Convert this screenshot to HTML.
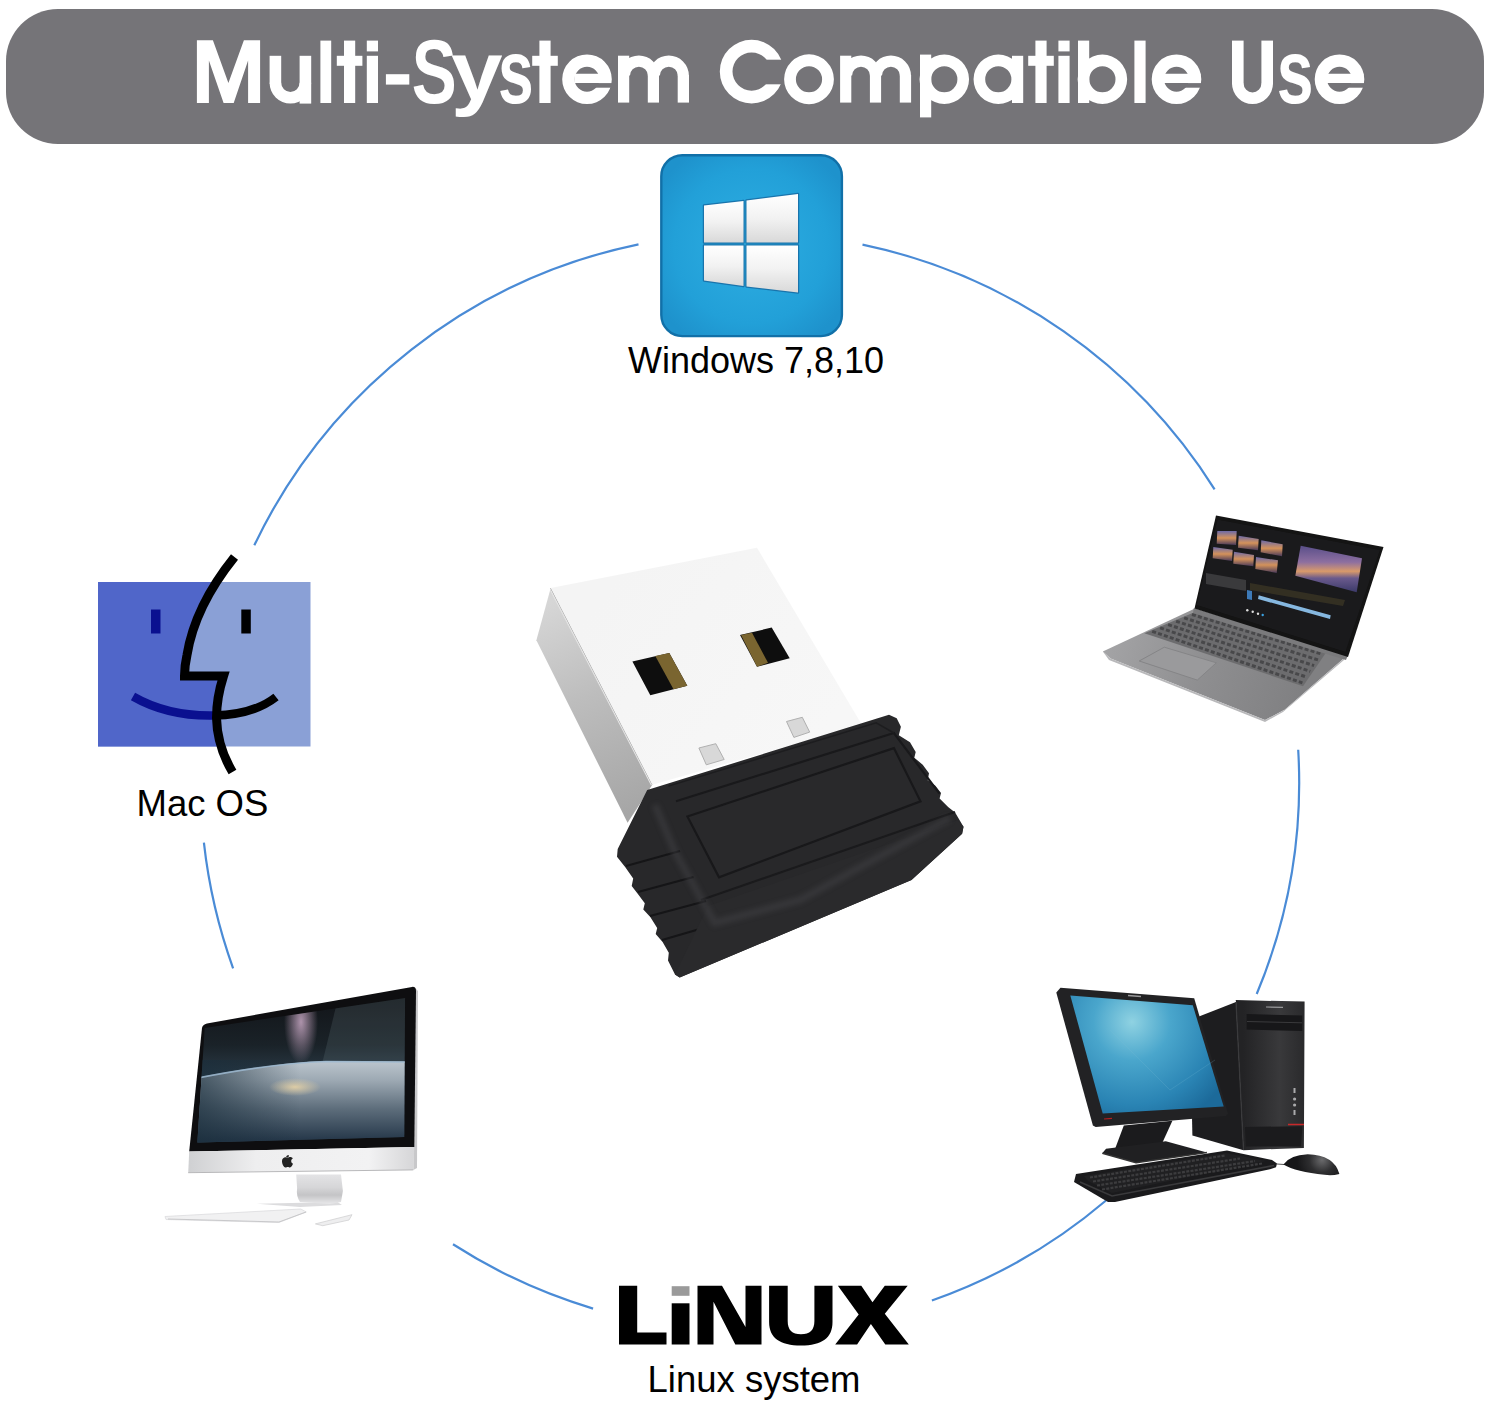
<!DOCTYPE html>
<html><head><meta charset="utf-8">
<style>
html,body{margin:0;padding:0;background:#fff;}
body{width:1500px;height:1421px;position:relative;overflow:hidden;font-family:"Liberation Sans",sans-serif;}
.abs{position:absolute;}
#hdr{left:6px;top:9px;width:1478px;height:135px;border-radius:52px;background:#757478;}
.gl{position:absolute;left:0;top:0;color:#fff;font-weight:bold;font-size:91px;line-height:1;white-space:pre;transform-origin:0 0;}
.lbl{position:absolute;white-space:nowrap;color:#000;font-size:36px;line-height:1;}
svg{position:absolute;left:0;top:0;}
</style></head><body>
<div id="hdr" class="abs"></div>
<div id="title"><span class="gl" style="transform:matrix(0.7407,0,0,1.0078,411.78,25.39)">S</span><span class="gl" style="transform:matrix(1.0204,0,0,0.9194,450.98,29.14)">y</span><span class="gl" style="transform:matrix(0.7045,0,0,0.9900,497.89,26.78)">s</span><span class="gl" style="transform:matrix(0.7273,0,0,0.9900,1276.82,26.78)">s</span></div>
<svg id="tsvg" width="1500" height="160" viewBox="0 0 1500 160" style="position:absolute;left:0;top:0"><path fill="#fff" fill-rule="evenodd" d="M719.80 71.55a31.8 31.8 0 1 0 63.6 0a31.8 31.8 0 1 0 -63.6 0ZM732.50 71.55a19.1 19.1 0 1 0 38.2 0a19.1 19.1 0 1 0 -38.2 0Z"/><rect fill="#757478" x="763" y="59.7" width="21" height="24.6"/><g fill="#fff"><path d="M840.10 55.70H851.30V102.60H840.10Z"/><path d="M840.90 75.60A20.1 20.1 0 0 1 881.10 75.60H869.90A8.9 8.9 0 0 0 852.10 75.60Z"/><path d="M869.90 75.00H881.10V102.60H869.90Z"/><path d="M870.80 75.60A20.1 20.1 0 0 1 911.00 75.60H899.80A8.9 8.9 0 0 0 882.00 75.60Z"/><path d="M899.80 75.00H911.10V102.60H899.80Z"/><path d="M618.00 55.70H629.20V102.60H618.00Z"/><path d="M618.80 75.60A20.1 20.1 0 0 1 659.00 75.60H647.80A8.9 8.9 0 0 0 630.00 75.60Z"/><path d="M647.80 75.00H659.00V102.60H647.80Z"/><path d="M648.70 75.60A20.1 20.1 0 0 1 688.90 75.60H677.70A8.9 8.9 0 0 0 659.90 75.60Z"/><path d="M677.70 75.00H689.00V102.60H677.70Z"/><path d="M196.9 103V40.3H212.9L228.4 83L243.9 40.3H260.1V103H248.1V60.6L233.7 103H223.6L208.9 60.6V103Z"/><path d="M269.6 55.8H281.2V83.6H269.6Z"/><path d="M299.6 55.8H311.2V103.6H299.6Z"/><path d="M269.6 82.8A20.8 20.8 0 0 0 311.2 82.8H299.6A9.2 9.2 0 0 1 281.2 82.8Z"/><path d="M320.4 40.6H331.2V103H320.4Z"/><path d="M1134.4 40.6H1145.6V103H1134.4Z"/><path d="M344.0 40.6H355.2V103H344.0Z"/><path d="M336.8 55.8H362.4V65.8H336.8Z"/><path d="M539.4 40.6H550.6V103H539.4Z"/><path d="M532.2 55.8H557.8V65.8H532.2Z"/><path d="M1035.4 40.6H1046.6V103H1035.4Z"/><path d="M1028.2 55.8H1053.8V65.8H1028.2Z"/><path d="M366.8 40.6H378.0V51.4H366.8Z"/><path d="M366.8 55.8H378.0V103H366.8Z"/><path d="M1058.4 40.6H1069.6V51.4H1058.4Z"/><path d="M1058.4 55.8H1069.6V103H1058.4Z"/><path d="M385.9 74.2H409.3V84.6H385.9Z"/><path d="M1232 40.6H1243.6V84.3H1232Z"/><path d="M1261.4 40.6H1273V84.3H1261.4Z"/><path d="M1232 83.5A20.5 20.5 0 0 0 1273 83.5H1261.4A8.9 8.9 0 0 1 1243.6 83.5Z"/><path fill-rule="evenodd" d="M784.10 79.25a24.9 24.9 0 1 0 49.8 0a24.9 24.9 0 1 0 -49.8 0ZM795.90 79.25a13.1 13.1 0 1 0 26.2 0a13.1 13.1 0 1 0 -26.2 0Z"/><path fill-rule="evenodd" d="M919.55 79.25a24.75 24.75 0 1 0 49.5 0a24.75 24.75 0 1 0 -49.5 0ZM931.20 79.25a13.1 13.1 0 1 0 26.2 0a13.1 13.1 0 1 0 -26.2 0Z"/><path fill-rule="evenodd" d="M973.55 79.25a24.75 24.75 0 1 0 49.5 0a24.75 24.75 0 1 0 -49.5 0ZM985.20 79.25a13.1 13.1 0 1 0 26.2 0a13.1 13.1 0 1 0 -26.2 0Z"/><path fill-rule="evenodd" d="M1077.65 79.25a24.75 24.75 0 1 0 49.5 0a24.75 24.75 0 1 0 -49.5 0ZM1089.30 79.25a13.1 13.1 0 1 0 26.2 0a13.1 13.1 0 1 0 -26.2 0Z"/><path fill-rule="evenodd" d="M562.20 79.25a24.8 24.8 0 1 0 49.6 0a24.8 24.8 0 1 0 -49.6 0ZM574.60 79.25a12.4 12.4 0 1 0 24.8 0a12.4 12.4 0 1 0 -24.8 0Z"/><path fill-rule="evenodd" d="M1151.70 79.25a24.8 24.8 0 1 0 49.6 0a24.8 24.8 0 1 0 -49.6 0ZM1164.10 79.25a12.4 12.4 0 1 0 24.8 0a12.4 12.4 0 1 0 -24.8 0Z"/><path fill-rule="evenodd" d="M1314.70 79.25a24.8 24.8 0 1 0 49.6 0a24.8 24.8 0 1 0 -49.6 0ZM1327.10 79.25a12.4 12.4 0 1 0 24.8 0a12.4 12.4 0 1 0 -24.8 0Z"/><path d="M920 54.6H931.2V117.4H920Z"/><path d="M1012 55.8H1023.2V103H1012Z"/><path d="M1078 40.6H1089.2V103H1078Z"/><path d="M574.40 73.8H611.00V83.1H574.40Z"/><path d="M1163.90 73.8H1200.50V83.1H1163.90Z"/><path d="M1326.90 73.8H1363.50V83.1H1326.90Z"/></g><g fill="#757478"><rect x="589.00" y="83.1" width="24" height="4.6"/><rect x="1178.50" y="83.1" width="24" height="4.6"/><rect x="1341.50" y="83.1" width="24" height="4.6"/></g></svg>

<svg id="arcs" width="1500" height="1421" viewBox="0 0 1500 1421">
<g fill="none" stroke="#4a8bd6" stroke-width="2.2">
<path d="M254.3 545.3A549.3 549.3 0 0 1 638.5 244.3"/>
<path d="M862.5 244.6A549.3 549.3 0 0 1 1214.6 489.3"/>
<path d="M1298.2 749.7A549.3 549.3 0 0 1 1256.7 994.0"/>
<path d="M1106.0 1200.5A549.3 549.3 0 0 1 931.9 1300.5"/>
<path d="M593.1 1308.6A549.3 549.3 0 0 1 453.0 1244.3"/>
<path d="M233.1 968.3A549.3 549.3 0 0 1 203.9 842.7"/>
</g>
</svg>

<!-- Windows icon -->
<svg id="win" width="1500" height="1421" viewBox="0 0 1500 1421">
<defs>
<radialGradient id="wbg" cx="751" cy="246" r="110" gradientUnits="userSpaceOnUse">
<stop offset="0" stop-color="#2eaee2"/><stop offset="0.7" stop-color="#22a0d8"/><stop offset="1" stop-color="#1e92cc"/>
</radialGradient>
<linearGradient id="wpane" x1="0" y1="0" x2="0" y2="1">
<stop offset="0" stop-color="#ffffff"/><stop offset="0.5" stop-color="#f2f2f2"/><stop offset="1" stop-color="#d9d9d9"/>
</linearGradient>
</defs>
<rect x="661.3" y="155.3" width="180.6" height="180.8" rx="21" fill="url(#wbg)" stroke="#1170a8" stroke-width="2.4"/>

<g fill="url(#wpane)" stroke="#1668a0" stroke-width="2.4" stroke-opacity="0.8" paint-order="stroke" stroke-linejoin="round">
<path d="M704 205.5L743.5 201V242.5H704Z"/><path d="M746.5 200.5L798 194V242.5H746.5Z"/>
<path d="M704 245.5H743.5V286L704 280.5Z"/><path d="M746.5 245.5H798V292.5L746.5 286.5Z"/>
</g>
</svg>

<!-- Mac Finder icon -->
<svg id="mac" width="1500" height="1421" viewBox="0 0 1500 1421">
<rect x="98" y="582" width="212.5" height="164.5" fill="#8aa0d6"/>
<path d="M98 582H215.5C201 600 190 628 186 658C184 670 184 676 184 676H220C215 695 213 715 216 735C217 740 219 745 221 746.5H98Z" fill="#5066c9"/>
<rect x="151" y="609.5" width="9.5" height="24" fill="#0a1090"/>
<rect x="241.3" y="609.5" width="9.5" height="24" fill="#000"/>
<path d="M133 696.5C160 712 190 716 214 715.5" fill="none" stroke="#0a1090" stroke-width="8.5"/>
<path d="M214 715.5C240 715 262 708 276 697" fill="none" stroke="#000" stroke-width="8.5"/>
<path d="M234.5 557C212 585 193 618 187 655C185 664 184.5 672 184.5 676H223.5C219 690 216.5 705 216.5 718C217 738 223 756 232.5 772" fill="none" stroke="#000" stroke-width="9"/>
</svg>

<!-- LINUX logo -->
<svg id="linux" width="1500" height="1421" viewBox="0 0 1500 1421">
<g fill="#000">
<path d="M619 1285.7H637.2V1332.6H666.5V1344.5H619Z"/>
<rect x="671.7" y="1286.2" width="17.8" height="9.6" fill="#9a9a9a"/>
<rect x="671.7" y="1303.3" width="17.8" height="41.2"/>
<path d="M697.5 1285.7H722L745.5 1327V1285.7H761.5V1344.5H735.3L713.5 1301.7V1344.5H697.5Z"/>
<path d="M769.1 1285.7H787.7V1321C787.7 1330 792 1334.2 801 1334.2C810 1334.2 814.4 1330 814.4 1321V1285.7H832.5V1322C832.5 1338 822 1345.5 801 1345.5C780 1345.5 769.1 1338 769.1 1322Z"/>
<path d="M837.9 1285.7H861.3L872.5 1302.2L884.8 1285.7H907.7L884.8 1313.8L908.8 1344.5H885.3L870.9 1324L857.1 1344.5H835.2L858.7 1314.5Z"/>
</g>
</svg>

<!-- USB dongle -->
<svg id="usb" width="1500" height="1421" viewBox="0 0 1500 1421">
<defs>
<linearGradient id="uside" gradientUnits="userSpaceOnUse" x1="545" y1="605" x2="635" y2="810">
<stop offset="0" stop-color="#d6d6d6"/><stop offset="0.45" stop-color="#bdbdbd"/><stop offset="1" stop-color="#a6a6a6"/>
</linearGradient>
<linearGradient id="utop" gradientUnits="userSpaceOnUse" x1="600" y1="600" x2="800" y2="760">
<stop offset="0" stop-color="#f4f4f4"/><stop offset="1" stop-color="#f7f7f7"/>
</linearGradient>
<linearGradient id="gold" gradientUnits="userSpaceOnUse" x1="0" y1="0" x2="1" y2="0">
<stop offset="0" stop-color="#6f5a2a"/><stop offset="1" stop-color="#9a8040"/>
</linearGradient>
<linearGradient id="capend" gradientUnits="userSpaceOnUse" x1="700" y1="900" x2="740" y2="980">
<stop offset="0" stop-color="#3a3a3a"/><stop offset="0.3" stop-color="#2a2a2a"/><stop offset="1" stop-color="#232323"/>
</linearGradient>
</defs>
<!-- metal left side -->
<path d="M550.7 588L536.4 640.3L627.6 822.7L652.3 784.7Z" fill="url(#uside)"/>
<path d="M551.5 590L652.3 784.7" stroke="#e4e4e4" stroke-width="3" fill="none"/><path d="M550.7 588L652.3 784.7" stroke="#8c8c8c" stroke-width="0.8" fill="none"/>
<!-- metal top -->
<path d="M550.7 588L757 547.8L862 725L652.3 784.7Z" fill="url(#utop)"/>
<!-- holes -->
<path d="M632.4 661.4L669.3 652.9L687.3 685.7L650.3 695.2Z" fill="#0e0e0e"/>
<path d="M655.3 656L669.3 652.9L687.3 685.7L673.5 689.3Z" fill="#7a6530"/>
<path d="M740 635L771.7 627.6L789.7 658.2L757 666.7Z" fill="#0e0e0e"/>
<path d="M741 635L752 632.8L768 662.8L757 666.7Z" fill="#7a6530"/>
<!-- small squares -->
<path d="M698.9 748L715.8 743.7L724.2 759.5L706.3 764.8Z" fill="#d8d8d8" stroke="#b0b0b0" stroke-width="1"/>
<path d="M786.5 721.5L802.3 717.3L809.7 732.1L793.9 737.4Z" fill="#d8d8d8" stroke="#b0b0b0" stroke-width="1"/>
<!-- black cap -->
<filter id="blur2" x="-20%" y="-20%" width="140%" height="140%"><feGaussianBlur stdDeviation="2.5"/></filter>
<path d="M647.2 790.1L889 714.8L896.7 718.3L900.9 726.7L898.8 735.2L910 742.2L915.7 752.1L914.3 757.7L922.7 764.7L929 773.2L927.7 780.2L935.4 785.8L941 792.9L939.6 798.5L948.1 807L955.1 812.6L963.5 826.7L962.1 833.7L911.5 880L679.7 977.5L675 974.4L668 960.5L668.8 952.7L662.6 941.9L655.7 934.1L657.2 928L650.3 917.1L643.3 909.4L644.8 903.2L637.9 893.9L631.7 886.1L633.2 878.4L625.5 867.6L617 856.7L617.7 849Z" fill="#28282a"/>
<!-- left ridges grooves -->
<g stroke="#151517" stroke-width="2.2" fill="none">
<path d="M626 866L680 851"/><path d="M638 892L693.5 877"/><path d="M650 916L706 901"/><path d="M662 940L717 924"/>
</g>
<!-- top lip groove -->
<path d="M676 801.3L893.9 733L939.5 793.7" stroke="#19191b" stroke-width="2.2" fill="none"/>
<path d="M668.4 786.1L876.2 722.8L893.9 733" stroke="#1d1d1f" stroke-width="1.5" fill="none"/>
<!-- inset -->
<path d="M687.4 816.5L893.9 748.1L920.5 801.3L719 877.3Z" fill="#29292b" stroke="#18181a" stroke-width="2.2"/>
<!-- end face groove -->
<path d="M701 900L955 812" stroke="#1a1a1c" stroke-width="2.2" fill="none"/>
<path d="M708 906L958 820L963.5 826.7L962.1 833.7L911.5 880L679.7 977.5L675 974.4Z" fill="#2a2a2c"/>
<!-- highlights -->
<g filter="url(#blur2)" fill="none" stroke="#4a4a4e" stroke-width="7" opacity="0.4">
<path d="M655 805L675 852L714.7 923L800 900L950 818"/>
</g>
</svg>

<!-- Laptop -->
<svg id="laptop" width="1500" height="1421" viewBox="0 0 1500 1421">
<defs>
<linearGradient id="lbase" gradientUnits="userSpaceOnUse" x1="1110" y1="640" x2="1300" y2="700">
<stop offset="0" stop-color="#a3a3a5"/><stop offset="0.5" stop-color="#8e8e90"/><stop offset="1" stop-color="#808082"/>
</linearGradient>
<linearGradient id="lsky" gradientUnits="userSpaceOnUse" x1="0" y1="546" x2="0" y2="592">
<stop offset="0" stop-color="#5a4f8a"/><stop offset="0.35" stop-color="#8d6fa0"/><stop offset="0.55" stop-color="#d99a6a"/><stop offset="0.7" stop-color="#6a5a8c"/><stop offset="1" stop-color="#3c3a6a"/>
</linearGradient>
<linearGradient id="lthumb" x1="0" y1="0" x2="0" y2="1">
<stop offset="0" stop-color="#6c6aa8"/><stop offset="0.5" stop-color="#d4925a"/><stop offset="1" stop-color="#4a3a5a"/>
</linearGradient>
<clipPath id="lscr"><path d="M1217.5 519.5L1380 550L1345.5 652L1196.5 605Z"/></clipPath>
</defs>
<!-- base -->
<path d="M1102.8 651.5L1193.8 609.1L1346 656.5L1285 709.6L1265 720L1110.6 658.5Z" fill="url(#lbase)"/>
<path d="M1102.8 651.5L1110.6 658.5L1265 720L1285 709.6L1346 656.5L1344 660L1283 712L1265 722L1109 660Z" fill="#b9b9bb"/>
<!-- keyboard -->
<path d="M1144.4 633.3L1193.8 612.5L1327.3 650.7L1303 686.2Z" fill="#6c6c6e"/>
<g stroke="#48484a" stroke-width="3" stroke-dasharray="4 2.2" fill="none">
<path d="M1192.0 614.5L1321.9 654.1"/>
<path d="M1184.1 617.9L1318.0 659.9"/>
<path d="M1176.1 621.2L1314.1 665.6"/>
<path d="M1168.1 624.6L1310.2 671.3"/>
<path d="M1160.1 627.9L1306.3 677.0"/>
<path d="M1152.2 631.3L1302.4 682.8"/>
</g>
<!-- touchpad -->
<path d="M1139.2 661L1164.3 647.2L1216.3 662.8L1197.3 680.1Z" fill="#9a9a9c" stroke="#858587" stroke-width="1"/>
<!-- hinge -->
<path d="M1193.8 608L1348 655L1346 660L1193 613Z" fill="#7a7a7c"/>
<!-- lid -->
<path d="M1216 515.5L1383.5 547L1348 657L1194.5 608.5Z" fill="#141414"/>
<g clip-path="url(#lscr)">
<path d="M1217.5 519.5L1380 550L1345.5 652L1196.5 605Z" fill="#1a1a1c"/>
<path d="M1217.3 531L1236.7 531L1236 545L1216.7 543.7Z" fill="url(#lthumb)"/>
<path d="M1238.7 535.7L1258.7 539L1258 550.3L1238 547.7Z" fill="url(#lthumb)"/>
<path d="M1261.3 540.3L1282.7 544.3L1282 556.3L1260.7 552.3Z" fill="url(#lthumb)"/>
<path d="M1213.3 547L1232.7 549.7L1232 561L1212.7 558.3Z" fill="url(#lthumb)"/>
<path d="M1234 551.7L1254 555L1253.3 566.3L1233.3 563.7Z" fill="url(#lthumb)"/>
<path d="M1256 557L1278 560.3L1276.7 573L1255.3 569Z" fill="url(#lthumb)"/>
<path d="M1300.7 545.7L1362 558.3L1356.7 592.3L1295.3 575.7Z" fill="url(#lsky)"/>
<path d="M1206 573L1246 580L1246 591L1206 584Z" fill="#3a3a3c"/>
<path d="M1250 583L1345 600L1343 606L1250 590Z" fill="#3a3424" opacity="0.8"/>
<path d="M1258.7 595.3L1330.7 615.3L1330 619L1258 599Z" fill="#86b8e0"/>
<path d="M1247 590L1252 591L1252 600L1247 599Z" fill="#3d7ab8"/>
<circle cx="1247.3" cy="610.3" r="1.2" fill="#ddd"/><circle cx="1252.7" cy="611.7" r="1.2" fill="#ddd"/><circle cx="1258" cy="613.7" r="1.2" fill="#ddd"/><circle cx="1262.7" cy="615" r="1.2" fill="#3aa0e0"/>
</g>
</svg>

<!-- Desktop PC -->
<svg id="desktop" width="1500" height="1421" viewBox="0 0 1500 1421">
<defs>
<radialGradient id="dscr" gradientUnits="userSpaceOnUse" cx="1132" cy="1022" r="110">
<stop offset="0" stop-color="#8fd2e2"/><stop offset="0.35" stop-color="#4aa6cc"/><stop offset="0.75" stop-color="#2a84b4"/><stop offset="1" stop-color="#1c6a9a"/>
</radialGradient>
<linearGradient id="dfront" gradientUnits="userSpaceOnUse" x1="1243" y1="1000" x2="1304" y2="1000">
<stop offset="0" stop-color="#232325"/><stop offset="0.6" stop-color="#39393b"/><stop offset="1" stop-color="#2a2a2c"/>
</linearGradient>
<radialGradient id="dmouse" gradientUnits="userSpaceOnUse" cx="1322" cy="1160" r="25">
<stop offset="0" stop-color="#6a6a6c"/><stop offset="0.5" stop-color="#2e2e30"/><stop offset="1" stop-color="#161618"/>
</radialGradient>
</defs>
<!-- tower side -->
<path d="M1190 1020L1236 1002L1243.5 1150.2L1192.4 1135.5Z" fill="#1d1d1f"/>
<!-- tower front -->
<path d="M1235.7 1000.1L1304.6 1001.6L1303.9 1147.9L1243.5 1150.2L1236 1002Z" fill="url(#dfront)"/>
<path d="M1236 1002L1243.5 1150" stroke="#3a3a3c" stroke-width="1.2" fill="none"/>
<path d="M1246.6 1014L1302.3 1015.5L1302.3 1031L1246.6 1029.5Z" fill="#171719"/>
<path d="M1247 1021.5L1302 1022.8" stroke="#3a3a3c" stroke-width="1" fill="none"/>
<path d="M1288 1124.5L1304 1124.5" stroke="#c8282a" stroke-width="1.5" fill="none"/>
<path d="M1245 1127L1302.3 1126.2L1301 1146.4L1245.8 1146.4Z" fill="#1b1b1d"/>
<path d="M1266 1007L1283 1007.3" stroke="#9a9a9c" stroke-width="1.2" fill="none"/>
<g fill="#aaaaac"><rect x="1293.5" y="1088" width="2" height="5"/><circle cx="1294.6" cy="1099" r="1.6"/><circle cx="1294.6" cy="1105" r="1.6"/><rect x="1293.5" y="1110" width="2" height="5"/></g>
<!-- monitor bezel -->
<path d="M1060.5 987.7L1194.2 998.2L1228 1113.6L1226 1116L1095.7 1127L1092.9 1125.6L1056.3 992.6Z" fill="#222224"/>
<path d="M1070.3 995.4L1192.8 1005.3L1223.7 1106.6L1102.7 1113.6Z" fill="url(#dscr)"/>
<path d="M1110 1030L1170 1090L1215 1060" stroke="#7ec0d8" stroke-width="1" fill="none" opacity="0.2"/>
<path d="M1104 1119L1112 1118.3" stroke="#b02020" stroke-width="1.2" fill="none"/>
<path d="M1128 995.5L1141 996.5" stroke="#9a9a9c" stroke-width="1.4" fill="none"/>
<!-- stand -->
<path d="M1123.8 1125.6L1172.4 1120.7L1161.8 1143.9L1129.4 1148.1L1115.4 1148.1Z" fill="#1b1b1d"/>
<path d="M1106 1148.7L1165.8 1141.2L1206.9 1152.4L1136 1162.7L1102.3 1153.3Z" fill="#202022"/>
<path d="M1102.3 1153.3L1136 1162.7L1206.9 1152.4" stroke="#333" stroke-width="1.5" fill="none"/>
<!-- keyboard -->
<path d="M1076 1174L1227 1150.5L1272 1160L1277 1163.6L1276 1167.3L1270 1169.2L1115 1202L1108 1202L1074 1182Z" fill="#1a1a1c"/>
<path d="M1084 1176L1226 1153L1266 1161L1112 1193L1088 1181Z" fill="#202022"/>
<g stroke="#3c3c3e" stroke-width="2.2" stroke-dasharray="3 1.3" fill="none">
<path d="M1090 1177.5L1225 1155.5"/><path d="M1093 1181.5L1240 1158.5"/><path d="M1097 1185.5L1255 1161"/><path d="M1102 1189.5L1262 1163.5"/>
</g>
<path d="M1080 1182L1112 1196L1274 1165.5" stroke="#3a3a3c" stroke-width="1.5" fill="none"/>
<path d="M1277 1164L1284 1164.5" stroke="#555" stroke-width="1" fill="none"/>
<!-- mouse -->
<path d="M1283.4 1164.5Q1290 1155 1307.7 1154.3Q1334 1155 1339.4 1173.9Q1332 1176 1324.5 1174.8Q1296 1172 1283.4 1164.5Z" fill="url(#dmouse)"/>
</svg>

<!-- iMac -->
<svg id="imac" width="1500" height="1421" viewBox="0 0 1500 1421">
<defs>
<linearGradient id="ichin" gradientUnits="userSpaceOnUse" x1="188" y1="1150" x2="414" y2="1150">
<stop offset="0" stop-color="#cfd0d2"/><stop offset="0.3" stop-color="#eeeeef"/><stop offset="0.8" stop-color="#f2f2f3"/><stop offset="1" stop-color="#d6d6d8"/>
</linearGradient>
<linearGradient id="isky" gradientUnits="userSpaceOnUse" x1="0" y1="1000" x2="0" y2="1075">
<stop offset="0" stop-color="#121519"/><stop offset="0.6" stop-color="#1a2228"/><stop offset="1" stop-color="#2a3a46"/>
</linearGradient>
<linearGradient id="iearth" gradientUnits="userSpaceOnUse" x1="0" y1="1061" x2="0" y2="1140">
<stop offset="0" stop-color="#bcc6ce"/><stop offset="0.25" stop-color="#9ca8b2"/><stop offset="0.6" stop-color="#5e6e7c"/><stop offset="1" stop-color="#26384a"/>
</linearGradient>
<linearGradient id="ileft" gradientUnits="userSpaceOnUse" x1="195" y1="0" x2="300" y2="0">
<stop offset="0" stop-color="#1a2e3c" stop-opacity="0.7"/><stop offset="1" stop-color="#1a2e3c" stop-opacity="0"/>
</linearGradient>
<radialGradient id="iglow" cx="0.5" cy="0.5" r="0.5">
<stop offset="0" stop-color="#c8a8c4" stop-opacity="0.85"/><stop offset="1" stop-color="#c8a8c4" stop-opacity="0"/>
</radialGradient>
<radialGradient id="isun" cx="0.5" cy="0.5" r="0.5">
<stop offset="0" stop-color="#e6d2a6" stop-opacity="0.9"/><stop offset="1" stop-color="#e6d2a6" stop-opacity="0"/>
</radialGradient>
<clipPath id="iscr"><path d="M204.7 1028L405.1 997.9L404.2 1137L197.4 1142.5Z"/></clipPath>
</defs>
<!-- keyboard & mouse -->
<path d="M165 1216.5L300.8 1209L306.3 1212L278.8 1222.5L166 1219.5Z" fill="#f1f1f2" stroke="#dcdcde" stroke-width="0.8"/>
<path d="M168 1219L279 1222L306 1212" stroke="#c8c8ca" stroke-width="1" fill="none"/>
<path d="M315.4 1223.9L352 1214.7L349 1220L322.8 1225.7Z" fill="#eeeeef" stroke="#d0d0d2" stroke-width="0.8"/>
<!-- stand -->
<path d="M256.9 1203.8L337.4 1201.9L342 1205L300 1207Z" fill="#dcdcde"/>
<linearGradient id="ineck" gradientUnits="userSpaceOnUse" x1="0" y1="1174" x2="0" y2="1204"><stop offset="0" stop-color="#e4e4e6"/><stop offset="0.45" stop-color="#d6d6d8"/><stop offset="0.7" stop-color="#c4c4c6"/><stop offset="1" stop-color="#e8e8ea"/></linearGradient>
<path d="M296.2 1174.5L341 1174.5L342.9 1191L341 1201.9L330 1204L300 1202Q296 1196 297.1 1188Z" fill="url(#ineck)"/>
<!-- right edge -->
<path d="M414.3 986.9L418 991L417 1168L413.3 1169.9Z" fill="#c8c8ca"/>
<!-- black glass -->
<path d="M207 1023.5L412 986.9Q416 986.5 416 991L414.3 1147L189.2 1151.6L202 1028Q202.5 1024.5 207 1023.5Z" fill="#0e0e10"/>
<!-- chin -->
<path d="M189.2 1151.6L414.3 1147L413.3 1169.9L188.2 1172.7Z" fill="url(#ichin)"/>
<path d="M188.2 1172.7L413.3 1169.9" stroke="#b8b8ba" stroke-width="1" fill="none"/>
<!-- apple logo -->
<path d="M286 1156.5c1.2-1.5 2-1.5 3-1.2c0 1 -0.6 2 -1.5 2.3zM282 1161c0-2.6 2-3.8 3.5-3.8c1 0 1.6 0.5 2.3 0.5c0.8 0 1.4-0.6 2.5-0.6c1 0 2 0.6 2.5 1.4c-1 0.6-1.6 1.5-1.6 2.6c0 1.3 0.8 2.3 1.8 2.7c-0.6 1.8-1.8 3.6-3 3.6c-0.9 0-1.2-0.5-2.2-0.5c-1 0-1.4 0.5-2.3 0.5c-1.6 0-3.5-3-3.5-6.4z" fill="#222"/>
<!-- screen -->
<g clip-path="url(#iscr)">
<rect x="190" y="990" width="220" height="160" fill="url(#isky)"/>
<path d="M340 990L410 990L410 1062L322 1064Z" fill="#7a9098" opacity="0.18"/>
<ellipse cx="301" cy="1022" rx="17" ry="42" fill="url(#iglow)"/>
<path d="M190 1079Q270 1063 326 1061L410 1061.5L410 1150L190 1150Z" fill="url(#iearth)"/>
<rect x="190" y="1060" width="220" height="90" fill="url(#ileft)"/>
<path d="M190 1079.5Q270 1063.5 326 1061.5L410 1062" stroke="#9cb8d0" stroke-width="1.6" fill="none" opacity="0.85"/>
<ellipse cx="295" cy="1087" rx="26" ry="9" fill="url(#isun)"/>
</g>

</svg>

<div class="lbl" id="lwin" style="left:628px;top:343px;">Windows 7,8,10</div>
<div class="lbl" id="lmac" style="left:136.5px;top:785.5px;font-size:36.5px;">Mac OS</div>
<div class="lbl" id="llin" style="left:647.5px;top:1362px;font-size:36.5px;">Linux system</div>
</body></html>
